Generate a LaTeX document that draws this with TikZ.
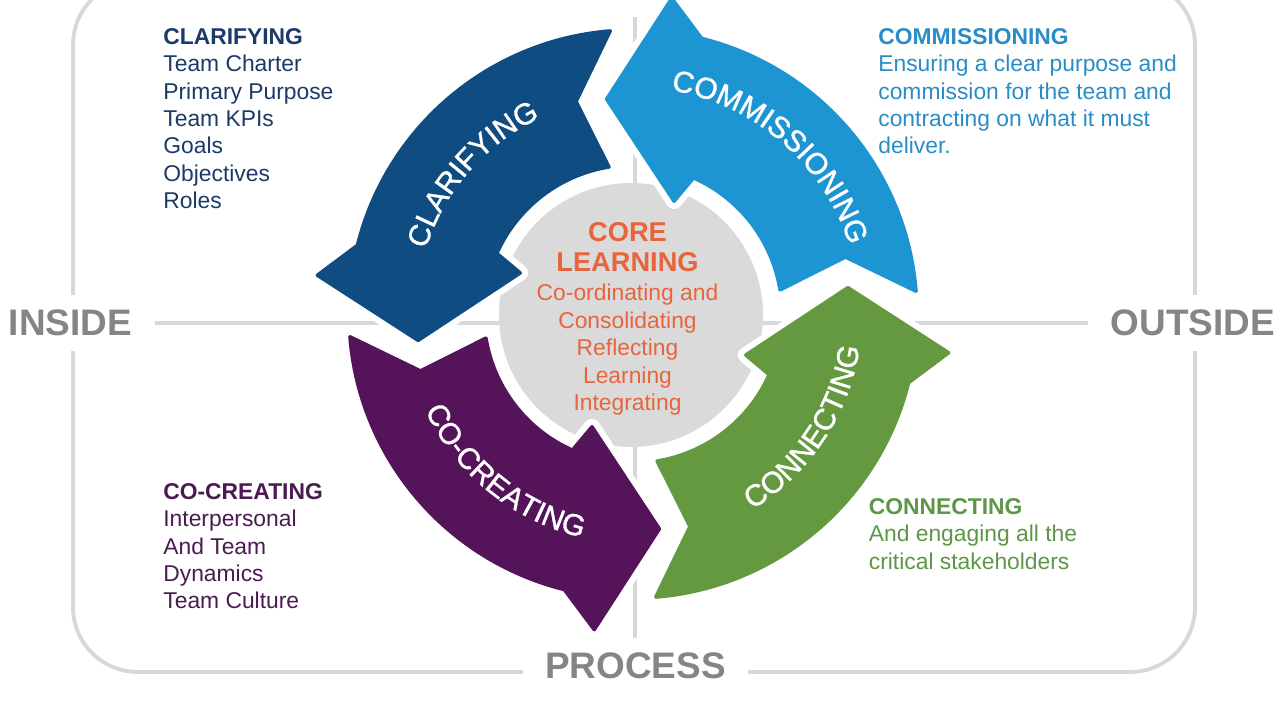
\documentclass[tikz,border=0pt]{standalone}
\usepackage{fontspec}
\setmainfont{Liberation Sans}
\newfontfamily\arrowfont{Liberation Sans}[FakeBold=1.2]
\usetikzlibrary{positioning,calc,decorations.text}

\definecolor{clarifyblue}{HTML}{0F4C81}
\definecolor{commissionblue}{HTML}{1D95D3}
\definecolor{cocreatepurple}{HTML}{55145A}
\definecolor{connectgreen}{HTML}{649940}
\definecolor{coregray}{HTML}{DADADA}
\definecolor{linegray}{HTML}{D8D8D8}
\definecolor{labelgray}{HTML}{858585}
\definecolor{clarifytxt}{HTML}{1B3A67}
\definecolor{commissiontxt}{HTML}{2A8CC6}
\definecolor{cocreatetxt}{HTML}{4B1A52}
\definecolor{connecttxt}{HTML}{5E9648}
\definecolor{coretxt}{HTML}{E8643C}

\begin{document}
\begin{tikzpicture}[
    frameline/.style={draw=linegray, line width=2.2pt},
    axislabel/.style={font=\fontsize{21}{21}\selectfont\bfseries, text=labelgray, fill=white, inner xsep=0.45cm, inner ysep=0.3cm},
    infotext/.style={anchor=north west, align=left, inner sep=0pt, font=\fontsize{13}{15.6}\selectfont},
    coretext/.style={align=center, inner sep=0pt, text=coretxt},
    quarter/.style={fill=#1, draw=#1, line width=2pt, line join=round, preaction={draw=white, line width=9pt, line join=round}},
    arrowlabel/.style={decorate, decoration={text along path, text align=center, text color=white, text={|\arrowfont\fontsize{17}{17}\selectfont|#1}}}
]

\useasboundingbox (0,0) rectangle (25.6,-14.4);

% ============== FRAME AND AXES ==============
\draw[frameline, rounded corners=1.3cm] (1.46,0.4) rectangle (23.9,-13.44);

\node[axislabel] (inside) at (1.41,-6.46) {INSIDE};
\node[axislabel] (outside) at (23.86,-6.46) {OUTSIDE};
\node[axislabel] (process) at (12.71,-13.32) {PROCESS};
\coordinate (topend) at (12.7,-0.34);

\draw[frameline] (inside) -- (outside);
\draw[frameline] (topend) -- (topend |- process.north);

% ============== CORE CIRCLE ==============
\node[circle, fill=coregray, minimum size=5.28cm, inner sep=0pt] (core) at (12.62,-6.30) {};
\coordinate (hub) at (12.66,-6.28);

% ============== ARROWS ==============
\begin{scope}[shift={(hub)}]
% Clarifying (top -> left)
\path[quarter=clarifyblue]
    (94.6:5.68) arc[start angle=94.6, end angle=166, radius=5.68]
    -- (173:6.36) -- (187:4.33) -- (160:2.4) -- (156:2.98)
    arc[start angle=156, end angle=99.3, radius=2.98]
    -- (105:4.4) -- cycle;

% Commissioning (right -> top)
\path[quarter=commissionblue, rotate=-90]
    (94.6:5.68) arc[start angle=94.6, end angle=166, radius=5.68]
    -- (173:6.36) -- (187:4.33) -- (160:2.4) -- (156:2.98)
    arc[start angle=156, end angle=99.3, radius=2.98]
    -- (105:4.4) -- cycle;

% Co-creating (left -> bottom)
\path[quarter=cocreatepurple, rotate=90]
    (94.6:5.68) arc[start angle=94.6, end angle=166, radius=5.68]
    -- (173:6.36) -- (187:4.33) -- (160:2.4) -- (156:2.98)
    arc[start angle=156, end angle=99.3, radius=2.98]
    -- (105:4.4) -- cycle;

% Connecting (bottom -> right)
\path[quarter=connectgreen, rotate=180]
    (94.6:5.68) arc[start angle=94.6, end angle=166, radius=5.68]
    -- (173:6.36) -- (187:4.33) -- (160:2.4) -- (156:2.98)
    arc[start angle=156, end angle=99.3, radius=2.98]
    -- (105:4.4) -- cycle;

% labels on the arrows
\path[arrowlabel=CLARIFYING] (175:4.34) arc[start angle=175, end angle=103, radius=4.34];
\path[arrowlabel=COMMISSIONING] (90:4.54) arc[start angle=90, end angle=8, radius=4.54];
\path[arrowlabel=CO-CREATING] (190:4.58) arc[start angle=190, end angle=272, radius=4.58];
\path[arrowlabel=CONNECTING] (285:4.58) arc[start angle=285, end angle=368, radius=4.58];
\end{scope}

% ============== CORE TEXT ==============
\node[coretext, anchor=north, font=\fontsize{15.5}{17}\selectfont\bfseries] (corehead) at (12.55,-4.44) {CORE\\LEARNING};
\node[coretext, below=0.24cm of corehead, font=\fontsize{13}{15.6}\selectfont] (corebody) {Co-ordinating and\\Consolidating\\Reflecting\\Learning\\Integrating};

% ============== INFO TEXTS ==============
\node[infotext, text=clarifytxt] (clarifyinfo) at (3.26,-0.56) {
    \textbf{CLARIFYING}\\
    Team Charter\\
    Primary Purpose\\
    Team KPIs\\
    Goals\\
    Objectives\\
    Roles
};

\node[infotext, text=commissiontxt] (commissioninfo) at (17.56,-0.56) {
    \textbf{COMMISSIONING}\\
    Ensuring a clear purpose and\\
    commission for the team and\\
    contracting on what it must\\
    deliver.
};

\node[infotext, text=cocreatetxt] (cocreateinfo) at (3.26,-9.66) {
    \textbf{CO-CREATING}\\
    Interpersonal\\
    And Team\\
    Dynamics\\
    Team Culture
};

\node[infotext, text=connecttxt] (connectinfo) at (17.37,-9.96) {
    \textbf{CONNECTING}\\
    And engaging all the\\
    critical stakeholders
};

\end{tikzpicture}
\end{document}
